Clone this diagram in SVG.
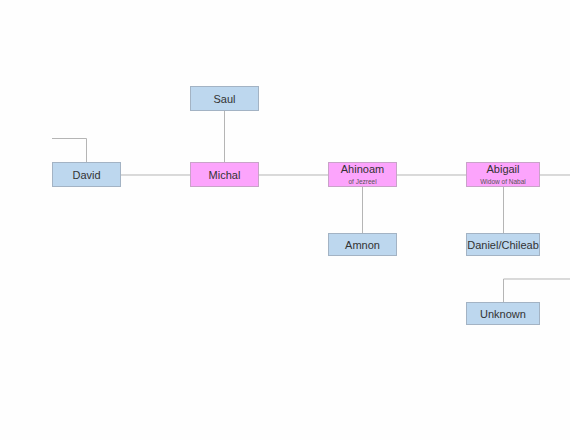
<svg xmlns="http://www.w3.org/2000/svg" width="570" height="440" viewBox="0 0 570 440">
<style>
.b{fill:#bdd7ee;stroke:#a3b3c4;stroke-width:1}
.p{fill:#fca4fc;stroke:#c9a3c9;stroke-width:1}
.t{font-family:"Liberation Sans",Arial,sans-serif;font-size:11px;fill:#333;text-anchor:middle}
.s{font-family:"Liberation Sans",Arial,sans-serif;font-size:6.5px;fill:#555;text-anchor:middle}
.c{fill:none;stroke:#b5b5b5;stroke-width:1}
</style>
<rect width="570" height="440" fill="#fefefe"/>
<g id="connectors">
<path class="c" d="M52 138.5H86.5V162"/>
<path class="c" d="M224.5 111V162"/>
<path class="c" d="M121 175H190M259 175H328M397 175H466M540 175H570"/>
<path class="c" d="M362.5 187V233"/>
<path class="c" d="M503.5 187V233"/>
<path class="c" d="M503.5 302V279H570"/>
</g>
<g id="david"><rect class="b" x="52.5" y="162.5" width="68" height="24"/><text class="t" x="86.5" y="178.5">David</text></g>
<g id="saul"><rect class="b" x="190.5" y="86.5" width="68" height="24"/><text class="t" x="224.5" y="102.5">Saul</text></g>
<g id="michal"><rect class="p" x="190.5" y="162.5" width="68" height="24"/><text class="t" x="224.5" y="178.5">Michal</text></g>
<g id="ahinoam"><rect class="p" x="328.5" y="162.5" width="68" height="24"/><text class="t" x="362.5" y="172.5">Ahinoam</text><text class="s" x="362.5" y="183.5">of Jezreel</text></g>
<g id="abigail"><rect class="p" x="466.5" y="162.5" width="73" height="24"/><text class="t" x="503" y="172.5">Abigail</text><text class="s" x="503" y="183.5">Widow of Nabal</text></g>
<g id="amnon"><rect class="b" x="328.5" y="233.5" width="68" height="22"/><text class="t" x="362.5" y="248.5">Amnon</text></g>
<g id="daniel"><rect class="b" x="466.5" y="233.5" width="73" height="22"/><text class="t" x="503" y="248.5">Daniel/Chileab</text></g>
<g id="unknown"><rect class="b" x="466.5" y="302.5" width="73" height="22"/><text class="t" x="503" y="317.5">Unknown</text></g>
</svg>
